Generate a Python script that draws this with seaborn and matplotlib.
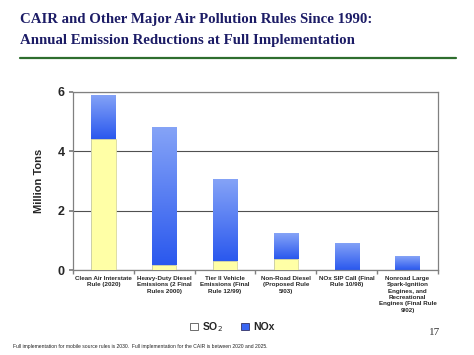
import numpy as np
import pandas as pd
import matplotlib
matplotlib.use("Agg")
import matplotlib.pyplot as plt
import seaborn as sns
from matplotlib.patches import Patch
from matplotlib.colors import LinearSegmentedColormap

# data (million tons)
rules = [
    "Clean Air Interstate\nRule (2020)",
    "Heavy-Duty Diesel\nEmissions (2 Final\nRules 2000)",
    "Tier II Vehicle\nEmissions (Final\nRule 12/99)",
    "Non-Road Diesel\n(Proposed Rule\n5/03)",
    "NOx SIP Call (Final\nRule 10/98)",
    "Nonroad Large\nSpark-Ignition\nEngines, and\nRecreational\nEngines (Final Rule\n9/02)",
]
so2 = [4.4, 0.17, 0.3, 0.39, 0.0, 0.0]
nox = [1.5, 4.66, 2.78, 0.85, 0.92, 0.47]
y_ticks = [0, 2, 4, 6]

df = pd.DataFrame({"rule": rules, "SO2": so2, "NOx": nox})
df["total"] = df["SO2"] + df["NOx"]

sns.set_theme(style="white")
plt.rcParams["font.family"] = ["Liberation Sans", "DejaVu Sans"]

fig = plt.figure(figsize=(4.74, 3.55), dpi=100)
ax = fig.add_axes([0.154, 0.239, 0.770, 0.502])

# stacked bars: total first (NOx part shows on top), then SO2 over it
sns.barplot(data=df, x="rule", y="total", color="#3a66f2", width=0.4,
            saturation=1, ax=ax, zorder=2)
n_tot = len(ax.patches)
sns.barplot(data=df, x="rule", y="SO2", color="#ffffa6", width=0.4,
            saturation=1, ax=ax, edgecolor="#d8d8a0", linewidth=0.6, zorder=3)

# gradient fill on NOx segments
cmap = LinearSegmentedColormap.from_list("nox", ["#2a58ee", "#86a4f7"])
grad = np.linspace(0, 1, 256).reshape(-1, 1)
for p, lo, hi in zip(ax.patches[:n_tot], df["SO2"], df["total"]):
    x0 = p.get_x()
    x1 = x0 + p.get_width()
    im = ax.imshow(grad, cmap=cmap, origin="lower", aspect="auto",
                   extent=[x0, x1, lo, hi], zorder=2.5)
    im.set_clip_path(p)
    p.set_edgecolor("none")

ax.set_xlim(-0.5, len(rules) - 0.5)
ax.set_ylim(0, 6)
ax.set_yticks(y_ticks)
ax.set_yticklabels([str(t) for t in y_ticks], fontsize=9, fontweight="bold")
ax.yaxis.grid(True, color="#505050", linewidth=0.8, zorder=0)
ax.set_axisbelow(True)

ax.set_xticks(range(len(rules)))
ax.set_xticklabels(rules, fontsize=4.5, fontweight="bold", linespacing=1.35)
ax.set_xticks(np.arange(-0.5, len(rules)), minor=True)
ax.tick_params(axis="x", which="major", length=0, pad=4)
ax.tick_params(axis="x", which="minor", length=3, color="#808080", direction="out", bottom=True)
ax.tick_params(axis="y", length=3, color="#808080", direction="out", left=True, pad=3)

ax.set_xlabel("")
ax.set_ylabel("Million Tons", fontsize=8, fontweight="bold", labelpad=10)
for s in ax.spines.values():
    s.set_color("#808080")
    s.set_linewidth(0.9)

# title and rule line
title_font = dict(family=["Liberation Serif", "DejaVu Serif"], fontweight="bold",
                  color="#1c1c66", fontsize=10.7)
fig.text(0.042, 0.945, "CAIR and Other Major Air Pollution Rules Since 1990:",
         va="center", **title_font)
fig.text(0.042, 0.885, "Annual Emission Reductions at Full Implementation",
         va="center", **title_font)
fig.add_artist(plt.Line2D([0.042, 0.962], [0.836, 0.836], color="#2e6e2e",
                          linewidth=1.6, transform=fig.transFigure))

# legend
handles = [Patch(facecolor="white", edgecolor="#555555", linewidth=0.6, label="SO$_2$"),
           Patch(facecolor="#3a66f2", edgecolor="#333366", linewidth=0.6, label="NOx")]
fig.legend(handles=handles, loc="center", bbox_to_anchor=(0.49, 0.079), ncol=2,
           frameon=False, prop={"weight": "bold", "size": 7.5},
           handlelength=0.7, handleheight=0.7, handletextpad=0.4, columnspacing=1.8)

fig.text(0.905, 0.062, "17", fontsize=8, va="center",
         family=["Liberation Serif", "DejaVu Serif"], color="#333333")
fig.text(0.028, 0.025, "Full implementation for mobile source rules is 2030.  "
         "Full implementation for the CAIR is between 2020 and 2025.",
         fontsize=3.6, va="center", color="#222222")

fig.savefig("out.png", dpi=100)
